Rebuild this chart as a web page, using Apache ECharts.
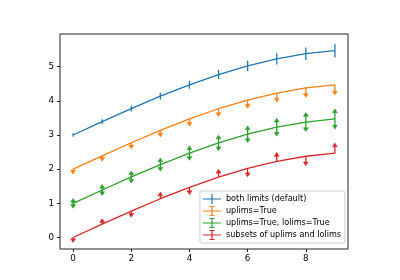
<!DOCTYPE html>
<html>
<head>
<meta charset="utf-8">
<script src="https://cdn.jsdelivr.net/npm/echarts@6/dist/echarts.min.js"></script>
<style>
  html, body { margin: 0; padding: 0; background: #fff; }
  #main { width: 400px; height: 280px; }
</style>
</head>
<body>
<div id="main"></div>
<script>
var xs = [0, 1, 2, 3, 4, 5, 6, 7, 8, 9];
var yBoth = [3.0, 3.391, 3.773, 4.135, 4.469, 4.768, 5.023, 5.228, 5.378, 5.469];
var yUp = [2.0, 2.391, 2.773, 3.135, 3.469, 3.768, 4.023, 4.228, 4.378, 4.469];
var yUpLo = [1.0, 1.391, 1.773, 2.135, 2.469, 2.768, 3.023, 3.228, 3.378, 3.469];
var ySubset = [0.0, 0.391, 0.773, 1.135, 1.469, 1.768, 2.023, 2.228, 2.378, 2.469];
var yErr = [0.05, 0.067, 0.083, 0.1, 0.117, 0.133, 0.15, 0.167, 0.183, 0.2];
// subsets: upper limit on even points, lower limit on odd points
var subUp = [true, false, true, false, true, false, true, false, true, false];
var subLo = [false, true, false, true, false, true, false, true, false, true];
var xTicks = [0, 2, 4, 6, 8];
var yTicks = [0, 1, 2, 3, 4, 5];
var names = ['both limits (default)', 'uplims=True', 'uplims=True, lolims=True', 'subsets of uplims and lolims'];
var colors = ['#1f77b4', '#ff7f0e', '#2ca02c', '#d62728'];

var myChart = echarts.init(document.getElementById('main'));

// [x, low, high, downArrow, upArrow]
function barData(ys, up, lo) {
    return xs.map(function (x, i) {
        var u = up[i], l = lo[i];
        var low = ys[i] - yErr[i], high = ys[i] + yErr[i];
        if (u && !l) high = ys[i];
        if (l && !u) low = ys[i];
        return [x, low, high, u ? 1 : 0, l ? 1 : 0];
    });
}
function all(v) { return xs.map(function () { return v; }); }

function renderBars(params, api) {
    var x = api.value(0);
    var p1 = api.coord([x, api.value(1)]);
    var p2 = api.coord([x, api.value(2)]);
    var color = api.visual('color');
    var kids = [{
        type: 'line',
        shape: { x1: p1[0], y1: p1[1], x2: p2[0], y2: p2[1] },
        style: { stroke: color, lineWidth: 1.3 }
    }];
    var w = 2.4, h = 3.2;
    if (api.value(3)) {
        kids.push({
            type: 'polygon',
            shape: { points: [[p1[0] - w, p1[1] - 0.5], [p1[0], p1[1] + h], [p1[0] + w, p1[1] - 0.5]] },
            style: { fill: color, stroke: color, lineWidth: 0.6 }
        });
    }
    if (api.value(4)) {
        kids.push({
            type: 'polygon',
            shape: { points: [[p2[0] - w, p2[1] + 0.5], [p2[0], p2[1] - h], [p2[0] + w, p2[1] + 0.5]] },
            style: { fill: color, stroke: color, lineWidth: 0.6 }
        });
    }
    return { type: 'group', children: kids };
}

var groups = [
    [yBoth, all(false), all(false)],
    [yUp, all(true), all(false)],
    [yUpLo, all(true), all(true)],
    [ySubset, subUp, subLo]
];

var series = [];
groups.forEach(function (g, k) {
    series.push({
        name: names[k],
        type: 'line',
        color: colors[k],
        data: xs.map(function (x, i) { return [x, g[0][i]]; }),
        showSymbol: false,
        lineStyle: { width: 1.3 },
        z: 2
    });
    series.push({
        name: names[k],
        type: 'custom',
        color: colors[k],
        renderItem: renderBars,
        data: barData(g[0], g[1], g[2]),
        z: 3
    });
});

var plusIcon = 'path://M0 4.4H18V5.6H0Z M8.4 0H9.6V10H8.4Z';
var capIcon = 'path://M0 4.4H18V5.6H0Z M8.4 0H9.6V10H8.4Z M6.5 0H11.5V1H6.5Z M6.5 9H11.5V10H6.5Z';

var option = {
    animation: false,
    grid: {
        left: 60, right: 52, top: 34, bottom: 31,
        show: true, borderColor: '#222', borderWidth: 1
    },
    xAxis: {
        type: 'value', min: -0.45, max: 9.45,
        splitLine: { show: false },
        axisLine: { show: false, onZero: false },
        axisTick: { show: true, length: 3, customValues: xTicks, lineStyle: { color: '#222' } },
        axisLabel: { customValues: xTicks, margin: 5, color: '#000', fontSize: 8.7, fontFamily: 'DejaVu Sans' }
    },
    yAxis: {
        type: 'value', min: -0.336, max: 5.955,
        splitLine: { show: false },
        axisLine: { show: false, onZero: false },
        axisTick: { show: true, length: 3, customValues: yTicks, lineStyle: { color: '#222' } },
        axisLabel: { customValues: yTicks, margin: 6, color: '#000', fontSize: 8.7, fontFamily: 'DejaVu Sans' }
    },
    legend: {
        orient: 'vertical',
        right: 55, bottom: 37,
        padding: [3, 4, 3, 3],
        itemWidth: 18, itemHeight: 10, itemGap: 2,
        selectedMode: false,
        backgroundColor: 'rgba(255,255,255,0.8)',
        borderColor: '#ccc', borderWidth: 1, borderRadius: 2,
        textStyle: { color: '#000', fontSize: 8.1, lineHeight: 10, fontFamily: 'DejaVu Sans' },
        data: [
            { name: names[0], icon: plusIcon },
            { name: names[1], icon: capIcon },
            { name: names[2], icon: capIcon },
            { name: names[3], icon: capIcon }
        ]
    },
    series: series
};

myChart.setOption(option);
</script>
</body>
</html>
